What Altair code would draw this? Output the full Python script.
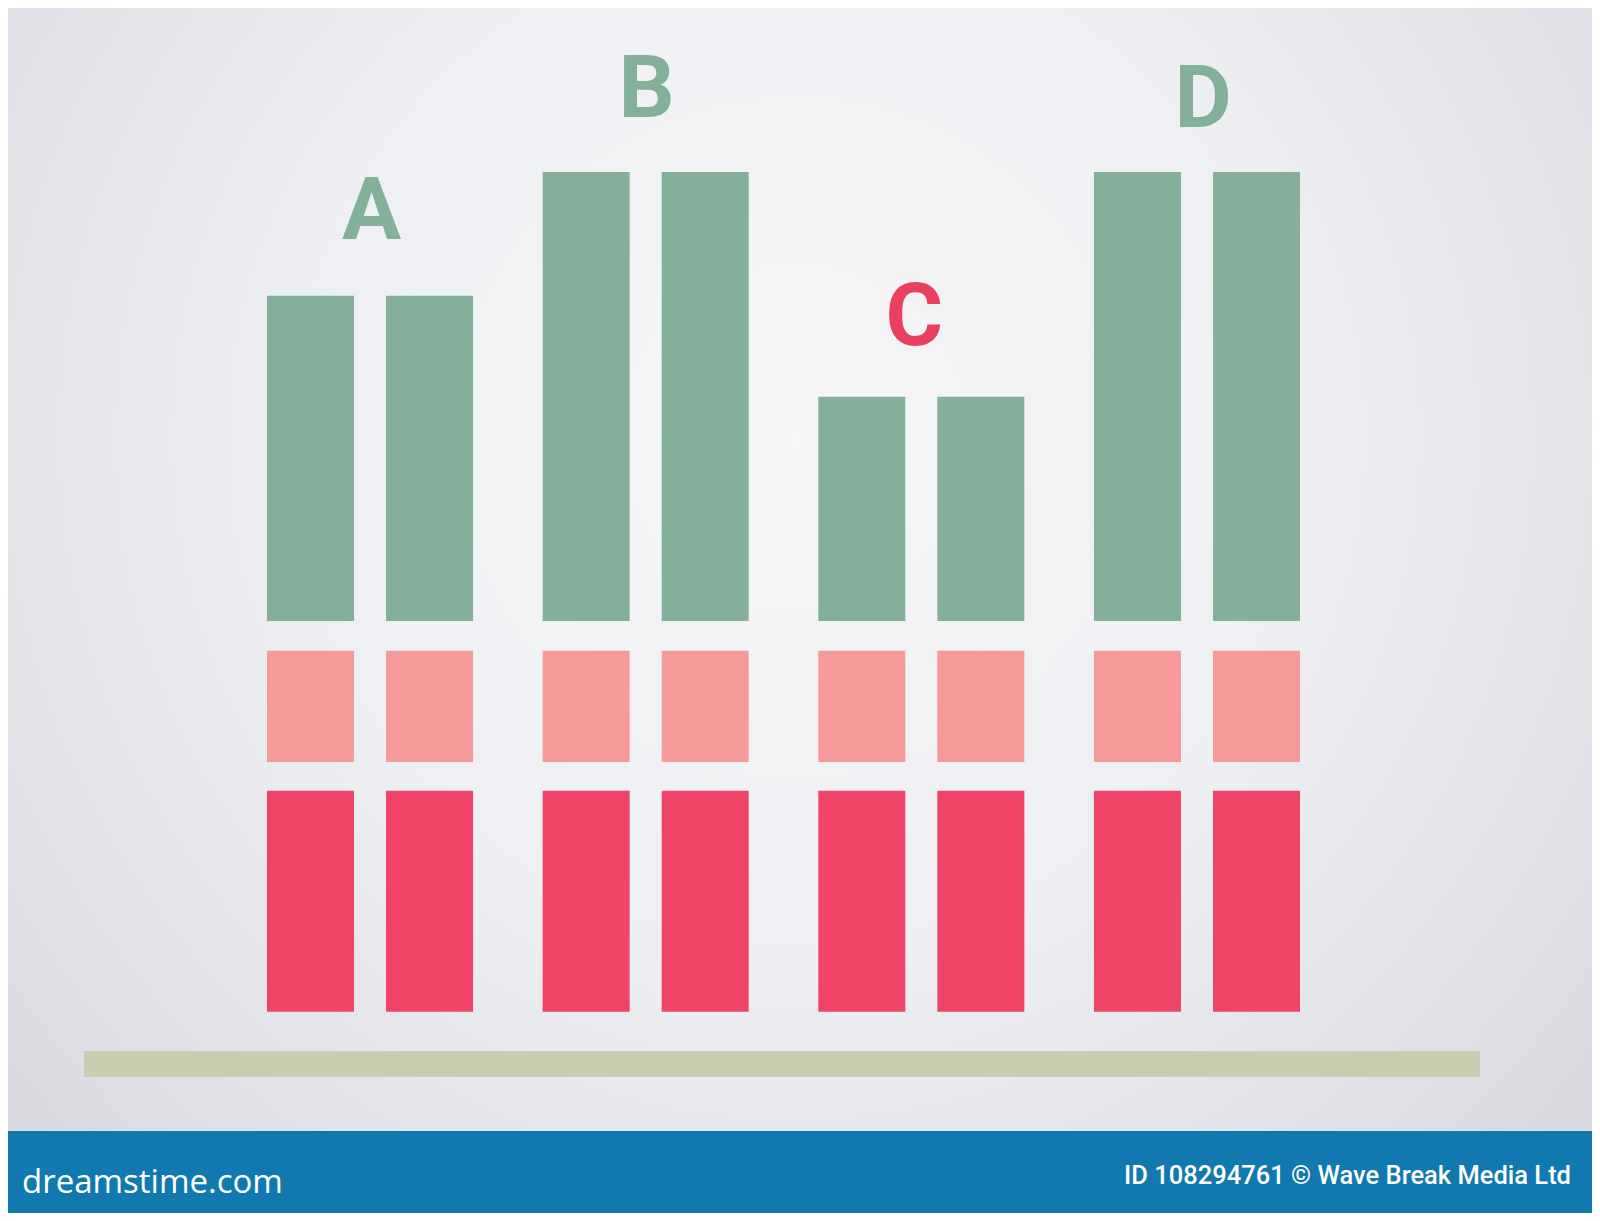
import altair as alt
import pandas as pd

# ---- data ----
groups = ["A", "B", "C", "D"]
subs = ["1", "2"]
green_tops = [324.0, 380.0, 278.3, 380.0]
green_bottom = 176.8
salmon_bottom = 113.0
salmon_top = 163.3
red_bottom = 0.0
red_top = 100.0
segments = ["green", "salmon", "red"]
seg_colors = ["#83AF9B", "#F59A98", "#EF4467"]
letter_heights = [349.6, 404.7, 301.7, 400.2]
letter_colors = ["#83AF9B", "#83AF9B", "#E8405F", "#83AF9B"]
letter_dx = [1.5, 1.0, -7.0, 6.0]
footer_left = "dreamstime.com"
footer_right = "ID 108294761 \u00a9 Wave Break Media Ltd"

rows = []
for g, top in zip(groups, green_tops):
    for s in subs:
        rows.append({"group": g, "sub": s, "seg": "red", "lo": red_bottom, "hi": red_top})
        rows.append({"group": g, "sub": s, "seg": "salmon", "lo": salmon_bottom, "hi": salmon_top})
        rows.append({"group": g, "sub": s, "seg": "green", "lo": green_bottom, "hi": top})
bars_df = pd.DataFrame(rows)
letters_df = pd.DataFrame({"group": groups, "h": letter_heights})

W, H = 1584, 1205
Y0 = 1003.7
PX = 2.21

xscale = alt.Scale(domain=groups, range=[259, 1292], paddingInner=0.2525, paddingOuter=0)
yscale = alt.Scale(domain=[0, 450], range=[Y0, Y0 - 450 * PX], zero=False, nice=False)

one = alt.Data(values=[{"k": 1}])

background = alt.Chart(one).mark_rect(
    fill={
        "gradient": "radial",
        "x1": 0.5, "y1": 0.42, "r1": 0,
        "x2": 0.5, "y2": 0.42, "r2": 0.72,
        "stops": [
            {"offset": 0.0, "color": "#f6f6f8"},
            {"offset": 0.45, "color": "#eeeff2"},
            {"offset": 0.8, "color": "#dedfe4"},
            {"offset": 1.0, "color": "#d2d4da"},
        ],
    }
).encode(x=alt.value(-8), x2=alt.value(W), y=alt.value(-8), y2=alt.value(1123))

ground = alt.Chart(one).mark_rect(color="#C9CCAF").encode(
    x=alt.value(76), x2=alt.value(1472), y=alt.value(1043), y2=alt.value(1069)
)

bars = alt.Chart(bars_df).mark_bar().encode(
    x=alt.X("group:N", scale=xscale, axis=None),
    xOffset=alt.XOffset("sub:N", scale=alt.Scale(domain=subs, paddingInner=0.269, paddingOuter=0)),
    y=alt.Y("lo:Q", scale=yscale, axis=None),
    y2="hi:Q",
    color=alt.Color("seg:N", scale=alt.Scale(domain=segments, range=seg_colors), legend=None),
)

letter_layers = []
for g, c, dx in zip(groups, letter_colors, letter_dx):
    letter_layers.append(
        alt.Chart(letters_df).transform_filter(alt.datum.group == g).mark_text(
            font="Roboto", fontSize=88, fontWeight="bold", color=c, dx=dx,
            align="center", baseline="alphabetic",
        ).encode(
            x=alt.X("group:N", scale=xscale, axis=None, bandPosition=0.5),
            y=alt.Y("h:Q", scale=yscale, axis=None),
            text="group:N",
        )
    )

footer = alt.Chart(one).mark_rect(color="#1179B0").encode(
    x=alt.value(-8), x2=alt.value(W + 8), y=alt.value(1123), y2=alt.value(H + 8)
)

footer_l = alt.Chart(one).mark_text(
    text=footer_left, font="Open Sans", fontSize=33, color="white",
    align="left", baseline="alphabetic",
).encode(x=alt.value(14), y=alt.value(1185))

footer_r = alt.Chart(one).mark_text(
    text=footer_right, font="Roboto", fontSize=25.5, fontWeight=500, color="white",
    align="right", baseline="alphabetic",
).encode(x=alt.value(1563), y=alt.value(1176))

chart = alt.layer(
    background, ground, bars, *letter_layers, footer, footer_l, footer_r
).properties(
    width=W, height=H, padding=0, autosize=alt.AutoSizeParams(type="none"),
    background="#e4e5e9",
).configure_view(stroke=None)

chart.save("out.html", embed_options={"renderer": "svg", "actions": False})
